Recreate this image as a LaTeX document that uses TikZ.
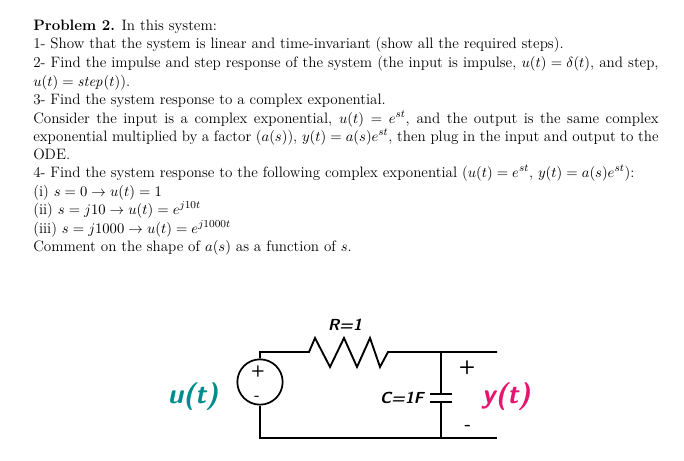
\documentclass[tikz,border=0pt]{standalone}
\usepackage{amsmath}
\begin{document}
\begin{tikzpicture}[x=0.75pt,y=-0.75pt,
  wire/.style={line width=1.4pt},
  lab/.style={font=\sffamily\bfseries\itshape},
  ln/.style={anchor=base west,inner sep=0pt,font=\fontsize{11.3}{13.75}\selectfont}]
\useasboundingbox (0,0) rectangle (684,460);
\node[ln] (l1) at (33,31) {\textbf{Problem 2.} In this system:};
\node[ln] (l2) at (33,49) {1- Show that the system is linear and time-invariant (show all the required steps).};
\node[ln] (l3) at (33,67) {\makebox[469pt][s]{2- Find the impulse and step response of the system (the input is impulse, $u(t)=\delta(t)$, and step,}};
\node[ln] (l4) at (33,86) {$u(t)=\mathit{step}(t)$).};
\node[ln] (l5) at (33,104) {3- Find the system response to a complex exponential.};
\node[ln] (l6) at (33,123) {\makebox[469pt][s]{Consider the input is a complex exponential, $u(t)=e^{st}$, and the output is the same complex}};
\node[ln] (l7) at (33,141) {\makebox[469pt][s]{exponential multiplied by a factor ($a(s)$), $y(t)=a(s)e^{st}$, then plug in the input and output to the}};
\node[ln] (l8) at (33,159) {ODE.};
\node[ln] (l9) at (33,177) {4- Find the system response to the following complex exponential ($u(t)=e^{st}$, $y(t)=a(s)e^{st}$):};
\node[ln] (l10) at (33,196) {(i) $s=0\rightarrow u(t)=1$};
\node[ln] (l11) at (33,214) {(ii) $s=j10\rightarrow u(t)=e^{j10t}$};
\node[ln] (l12) at (33,233) {(iii) $s=j1000\rightarrow u(t)=e^{j1000t}$};
\node[ln] (l13) at (33,251) {Comment on the shape of $a(s)$ as a function of $s$.};
% circuit
\node[draw,circle,line width=1.3pt,minimum size=34pt,inner sep=0pt] (src) at (260,382) {};
\coordinate (tl) at (260,352); \coordinate (bl) at (260,438);
\coordinate (r1) at (309,352); \coordinate (r2) at (388,352);
\coordinate (ct) at (441,352); \coordinate (cb) at (441,438);
\coordinate (c1) at (441,394); \coordinate (c2) at (441,402);
\coordinate (otop) at (497,352); \coordinate (obot) at (497,438);
\draw[wire] (src.north) -- (tl) -- (r1) -- (315,338) -- (330,367) -- (344,338) -- (357,367) -- (370,338) -- (380,367) -- (r2) -- (ct) -- (otop);
\draw[wire] (src.south) -- (bl) -- (cb) -- (obot);
\draw[wire] (ct) -- (c1) (c2) -- (cb);
\draw[wire] (430,394) -- (452,394) (430,402) -- (452,402);
\node[lab,font=\sffamily\bfseries\large] (p) at (258,371) {+};
\node[lab,font=\sffamily\bfseries\large] (m) at (257,398) {-};
\node[lab,font=\sffamily\bfseries\itshape\large] (R) at (345,325) {R=1};
\node[lab,font=\sffamily\bfseries\itshape\large] (C) at (402,398) {C=1F};
\node[lab,font=\sffamily\bfseries\Large] (op) at (467,368) {+};
\node[lab,font=\sffamily\bfseries\Large] (om) at (468,428) {-};
\node[lab,font=\sffamily\bfseries\itshape\huge,text={rgb,255:red,0;green,140;blue,140}] (u) at (193,397) {u(t)};
\node[lab,font=\sffamily\bfseries\itshape\huge,text={rgb,255:red,230;green,20;blue,110}] (y) at (506,397) {y(t)};
\end{tikzpicture}
\end{document}
